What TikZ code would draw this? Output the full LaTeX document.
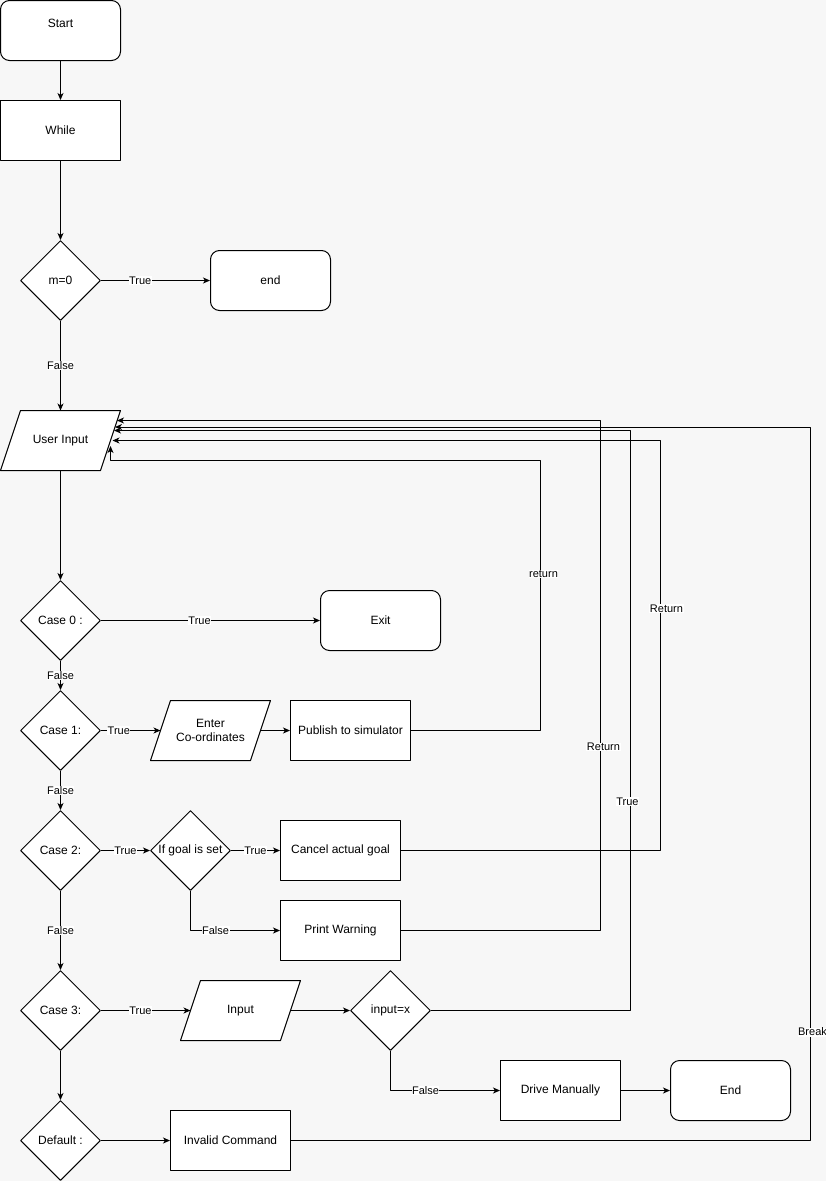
\documentclass[tikz,border=0pt]{standalone}
\usepackage{fontspec}
\setmainfont{Liberation Sans}
\usetikzlibrary{shapes.geometric,arrows.meta,backgrounds}
\begin{document}
\begin{tikzpicture}[x=1pt,y=-1pt,line join=round,line width=1pt,
  font=\fontsize{12}{14}\selectfont,
  proc/.style={draw,fill=white,minimum width=120pt,minimum height=60pt,inner sep=0pt,align=center},
  term/.style={proc,rounded corners=9pt},
  io/.style={minimum width=100pt,minimum height=60pt,inner sep=0pt,outer sep=0pt,align=center},
  decision/.style={diamond,draw,fill=white,minimum width=80pt,minimum height=80pt,inner sep=0pt},
  flow/.style={draw,-{Stealth[length=7pt,width=6pt,inset=2pt]}},
  lbl/.style={fill=white,inner sep=.5pt,font=\fontsize{11}{13}\selectfont}]
\definecolor{paper}{HTML}{F7F7F7}
\useasboundingbox (0,0) rectangle (826,1181);
\node[term,text height=9pt,text depth=16pt] (start) at (60.5,30.5) {Start};
\node[proc] (while) at (60.5,130.5) {While};
\node[decision] (m0) at (60.5,280.5) {m=0};
\node[term] (stop) at (270.5,280.5) {end};
\node[io] (ui) at (60.5,440.5) {User Input};
\node[decision] (c0) at (60.5,620.5) {Case 0 :};
\node[term] (exit) at (380.5,620.5) {Exit};
\node[decision] (c1) at (60.5,730.5) {Case 1:};
\node[io] (coord) at (210.5,730.5) {Enter\\Co-ordinates};
\node[proc] (pub) at (350.5,730.5) {Publish to simulator};
\node[decision] (c2) at (60.5,850.5) {Case 2:};
\node[decision] (goal) at (190.5,850.5) {\makebox[0pt]{If goal is set}};
\node[proc] (cancel) at (340.5,850.5) {Cancel actual goal};
\node[proc] (warn) at (340.5,930.5) {Print Warning};
\node[decision] (c3) at (60.5,1010.5) {Case 3:};
\node[io] (inp) at (240.5,1010.5) {Input};
\node[decision] (isx) at (390.5,1010.5) {input=x};
\node[proc] (drive) at (560.5,1090.5) {Drive Manually};
\node[term] (fin) at (730.5,1090.5) {End};
\node[decision] (dflt) at (60.5,1140.5) {Default :};
\node[proc] (bad) at (230.5,1140.5) {Invalid Command};
\begin{scope}[on background layer]
\fill[paper] (0,0) rectangle (826,1181);
\foreach \p in {ui,coord,inp}
  \draw[fill=white,line width=1pt,line join=round] ([xshift=10pt]\p.north west) -- ([xshift=10pt]\p.north east) -- ([xshift=-10pt]\p.south east) -- ([xshift=-10pt]\p.south west) -- cycle;
\end{scope}
\coordinate (uiA) at (117,420.5);
\coordinate (uiB) at (115,427);
\coordinate (uiC) at (114,430.5);
\coordinate (uiD) at (112.5,440.5);
\coordinate (uiE) at (110.5,446);
\coordinate (rt1) at (540.5,460.5);
\coordinate (rt2) at (660.5,440.5);
\coordinate (rt3) at (600.5,420.5);
\coordinate (rt4) at (630.5,430.5);
\coordinate (rt5) at (810.5,427);
\draw[flow] (start) -- (while);
\draw[flow] (while) -- (m0);
\draw[flow] (m0) -- node[lbl,pos=.36] {True} (stop);
\draw[flow] (m0) -- node[lbl] {False} (ui);
\draw[flow] (ui) -- (c0);
\draw[flow] (c0) -- node[lbl,pos=.45] {True} (exit);
\draw[flow] (c0) -- node[lbl] {False} (c1);
\draw[flow] (c1) -- node[lbl,pos=.3] {True} (coord);
\draw[flow] (coord) -- (pub);
\draw[flow] (pub) -| node[lbl,pos=.79,xshift=3pt] {return} (rt1) -- (rt1 -| uiE) -- (uiE);
\draw[flow] (c1) -- node[lbl] {False} (c2);
\draw[flow] (c2) -- node[lbl] {True} (goal);
\draw[flow] (goal) -- node[lbl] {True} (cancel);
\draw[flow] (goal) |- node[lbl,pos=.64] {False} (warn);
\draw[flow] (cancel) -| node[lbl,pos=.795,xshift=6pt] {Return} (rt2) -- (uiD);
\draw[flow] (warn) -| node[lbl,pos=.68,xshift=3pt] {Return} (rt3) -- (uiA);
\draw[flow] (c2) -- node[lbl] {False} (c3);
\draw[flow] (c3) -- node[lbl,pos=.44] {True} (inp);
\draw[flow] (inp) -- (isx);
\draw[flow] (isx) -| node[lbl,pos=.68,xshift=-3pt] {True} (rt4) -- (uiC);
\draw[flow] (isx) |- node[lbl,pos=.66] {False} (drive);
\draw[flow] (drive) -- (fin);
\draw[flow] (c3) -- (dflt);
\draw[flow] (dflt) -- (bad);
\draw[flow] (bad) -| node[lbl,pos=.576,xshift=2pt] {Break} (rt5) -- (uiB);
\end{tikzpicture}
\end{document}
